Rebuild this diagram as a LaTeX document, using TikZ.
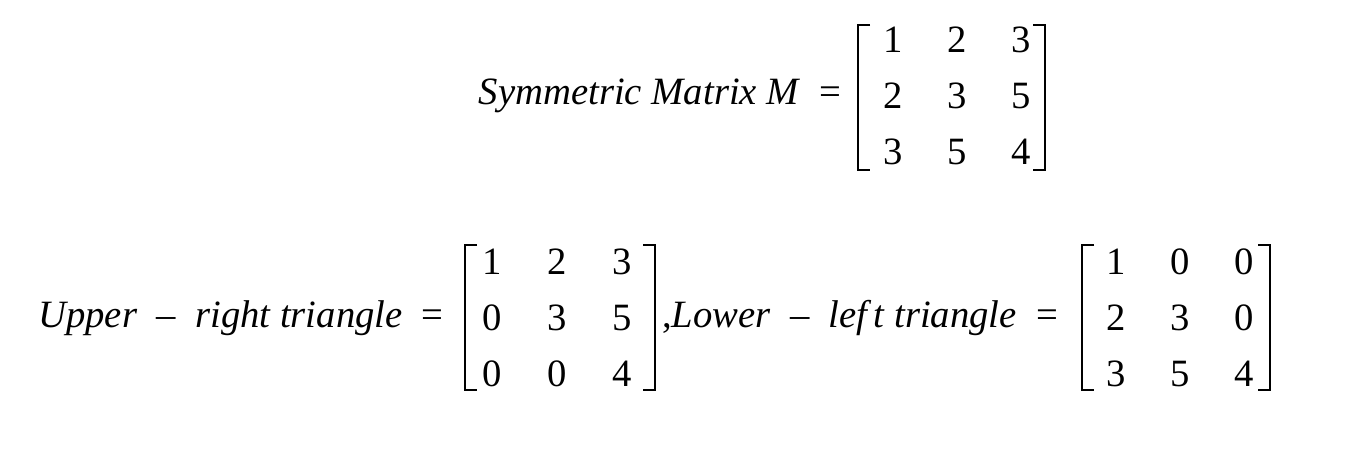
\documentclass[tikz,border=0pt]{standalone}
\usepackage{fontspec}
\setmainfont{Liberation Serif}
\begin{document}
\begin{tikzpicture}[x=0.75pt,y=-0.75pt,
  txt/.style={font=\fontsize{29}{34}\selectfont,inner sep=0pt},
  brk/.style={line width=2pt}]
\useasboundingbox (0,0) rectangle (1360,452);
\newcommand{\mybr}[4]{% x left, x right, y top, y bottom
  \draw[brk] (#1+12,#3) -- (#1,#3) -- (#1,#4) -- (#1+12,#4);
  \draw[brk] (#2-12,#3) -- (#2,#3) -- (#2,#4) -- (#2-12,#4);}
% top
\node[txt,anchor=east] (t1) at (842,96) {\textit{Symmetric\ Matrix\ M}\ \ =};
\mybr{858}{1045}{25}{170}
\foreach \r/\y in {{1,2,3}/40,{2,3,5}/96,{3,5,4}/152}{
  \foreach \v [count=\i] in \r {
    \node[txt] (a\i\y) at ({893+(\i-1)*64},\y) {\v};}}
% bottom left
\node[txt,anchor=east] (t2) at (444,318) {\textit{Upper}\ \ –\ \ \textit{right\ triangle}\ \ =};
\mybr{465}{655}{245}{390}
\foreach \r/\y in {{1,2,3}/262,{0,3,5}/318,{0,0,4}/374}{
  \foreach \v [count=\i] in \r {
    \node[txt] (b\i\y) at ({492+(\i-1)*65},\y) {\v};}}
% bottom right
\node[txt,anchor=west] (t3) at (662,318) {,\textit{Lower}\ \ –\ \ \textit{lef\,t\ triangle}\ \ =};
\mybr{1082}{1270}{245}{390}
\foreach \r/\y in {{1,0,0}/262,{2,3,0}/318,{3,5,4}/374}{
  \foreach \v [count=\i] in \r {
    \node[txt] (c\i\y) at ({1116+(\i-1)*64},\y) {\v};}}
\end{tikzpicture}
\end{document}
